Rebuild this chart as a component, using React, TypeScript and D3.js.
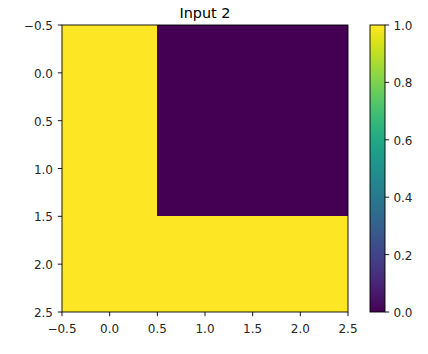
import React from "react";
import * as d3 from "d3";

const title = "Input 2";
const rows = [0, 1, 2];
const cols = [0, 1, 2];
const values: number[][] = [
  [1, 0, 0],
  [1, 0, 0],
  [1, 1, 1],
];
const axisTicks = [-0.5, 0.0, 0.5, 1.0, 1.5, 2.0, 2.5];
const cbarTicks = [0.0, 0.2, 0.4, 0.6, 0.8, 1.0];

const W = 428;
const H = 354;
const L = 62, R = 348, T = 25, B = 312;
const CB_L = 370, CB_R = 385;
const font = "DejaVu Sans, sans-serif";
const tickColor = "#262626";
const TICK = 4.2;

export default function App() {
  const x = d3.scaleLinear().domain([-0.5, 2.5]).range([L, R]);
  const y = d3.scaleLinear().domain([-0.5, 2.5]).range([T, B]);
  const c = d3.scaleLinear().domain([0, 1]).range([B, T]);
  const color = (v: number) => d3.interpolateViridis(v);
  const stops = d3.range(0, 65).map((i) => i / 64);
  const fmt = d3.format(".1f");
  const fmtMinus = (v: number) => fmt(v).replace("-", "\u2212");

  return (
    <svg width={W} height={H} style={{ position: "absolute", left: 0, top: 0, background: "#fff" }}>
      <defs>
        <linearGradient id="cbar" x1="0" y1="1" x2="0" y2="0">
          {stops.map((s) => (
            <stop key={s} offset={s} stopColor={color(s)} />
          ))}
        </linearGradient>
      </defs>
      <rect x={0} y={0} width={W} height={H} fill="#fff" />
      <text x={(L + R) / 2} y={T - 7.3} textAnchor="middle" fontFamily={font} fontSize={14.4} fill="#000">
        {title}
      </text>
      {rows.map((r) =>
        cols.map((cIdx) => (
          <rect
            key={`${r}-${cIdx}`}
            x={x(cIdx - 0.5)}
            y={y(r - 0.5)}
            width={x(cIdx + 0.5) - x(cIdx - 0.5)}
            height={y(r + 0.5) - y(r - 0.5)}
            fill={color(values[r][cIdx])}
            shapeRendering="crispEdges"
          />
        ))
      )}
      <rect x={L} y={T} width={R - L} height={B - T} fill="none" stroke="#000" strokeWidth={0.9} />
      {axisTicks.map((t) => (
        <g key={`x${t}`}>
          <line x1={x(t)} x2={x(t)} y1={B} y2={B + TICK} stroke="#000" strokeWidth={0.9} />
          <text x={x(t)} y={B + 20.5} textAnchor="middle" fontFamily={font} fontSize={12} fill={tickColor}>
            {fmtMinus(t)}
          </text>
        </g>
      ))}
      {axisTicks.map((t) => (
        <g key={`y${t}`}>
          <line x1={L - TICK} x2={L} y1={y(t)} y2={y(t)} stroke="#000" strokeWidth={0.9} />
          <text x={L - 9} y={y(t) + 5} textAnchor="end" fontFamily={font} fontSize={12} fill={tickColor}>
            {fmtMinus(t)}
          </text>
        </g>
      ))}
      <rect x={CB_L} y={T} width={CB_R - CB_L} height={B - T} fill="url(#cbar)" />
      <rect x={CB_L} y={T} width={CB_R - CB_L} height={B - T} fill="none" stroke="#000" strokeWidth={0.9} />
      {cbarTicks.map((t) => (
        <g key={`c${t}`}>
          <line x1={CB_R} x2={CB_R + TICK} y1={c(t)} y2={c(t)} stroke="#000" strokeWidth={0.9} />
          <text x={CB_R + 8.4} y={c(t) + 5} textAnchor="start" fontFamily={font} fontSize={12} fill={tickColor}>
            {fmt(t)}
          </text>
        </g>
      ))}
    </svg>
  );
}
